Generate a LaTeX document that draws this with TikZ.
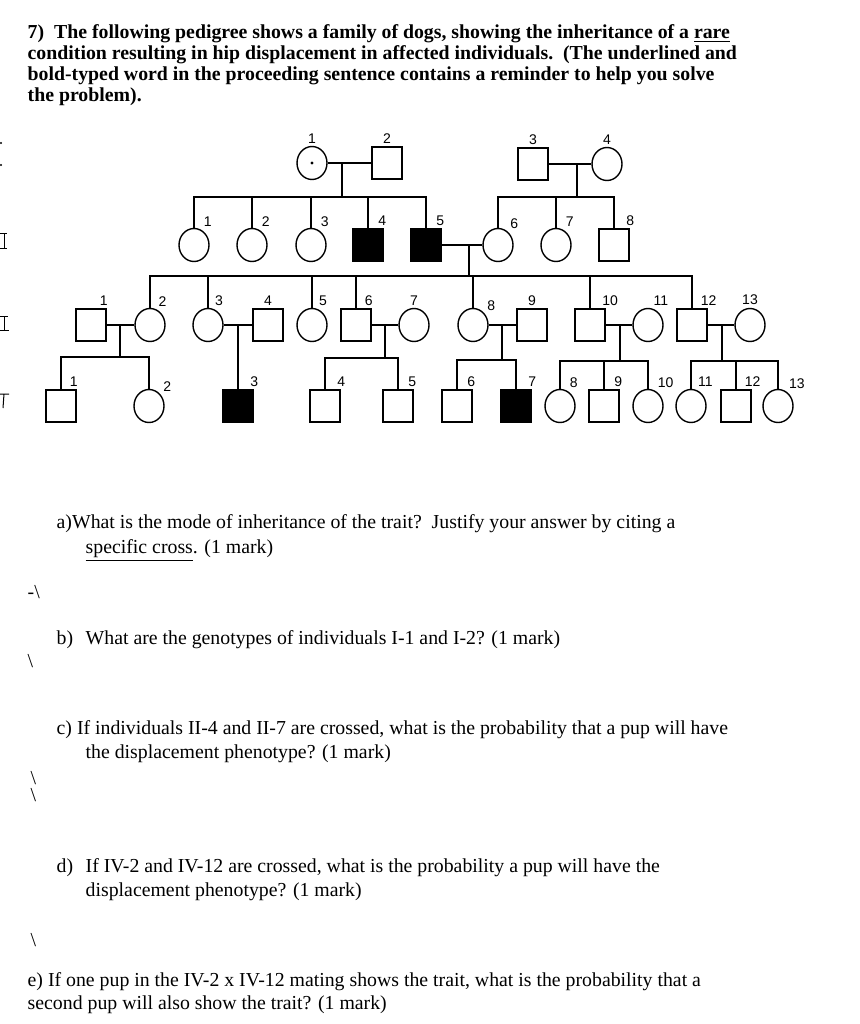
\documentclass[tikz,border=0pt]{standalone}
\usepackage{fontspec}
\setmainfont{Liberation Serif}
\newfontfamily\handfont{Liberation Sans}
\usetikzlibrary{shapes.geometric}

\begin{document}
\begin{tikzpicture}[x=0.5pt,y=-0.5pt,line width=0.7pt,
  male/.style={draw,rectangle,minimum width=15pt,minimum height=16pt,inner sep=0pt},
  female/.style={draw,ellipse,minimum width=15pt,minimum height=16.5pt,inner sep=0pt},
  aff/.style={fill=black},
  num/.style={font=\handfont\fontsize{7}{7}\selectfont,inner sep=1pt},
  txt/.style={anchor=base west,inner sep=0pt,font=\fontsize{9.9}{11}\selectfont},
  hd/.style={anchor=base west,inner sep=0pt,font=\bfseries\fontsize{9.9}{11}\selectfont},
  tick/.style={line width=0.5pt}]
\fill[white] (0,0) rectangle (860,1024);
\useasboundingbox (0,0) rectangle (860,1024);

\node[hd] (h1) at (27,38) {7)\hspace{5pt}The following pedigree shows a family of dogs, showing the inheritance of a \underline{rare}};
\node[hd] (h2) at (27,59) {condition resulting in hip displacement in affected individuals.\ \ (The underlined and};
\node[hd] (h3) at (27,80) {bold-typed word in the proceeding sentence contains a reminder to help you solve};
\node[hd] (h4) at (27,101) {the problem).};

\draw[tick] (0,233)--(7,233) (4,233)--(4,248) (0,248)--(7,248);
\draw[tick] (0,316)--(8,316) (4,316)--(4,330) (0,330)--(9,330);
\draw[tick] (0,394)--(9,394) (4,394)--(3,408);
\fill (1,143) circle (1.2) (1,165) circle (1.2);

\node[female,label={[num]above:1}] (I1) at (312,163) {};
\fill (I1.center) circle (1.6);
\node[male,label={[num]above:2}] (I2) at (387,163) {};
\node[male,label={[num]above:3}] (I3) at (533,164) {};
\node[female,label={[num]above:4}] (I4) at (607,164) {};
\draw (I1) -- (I2);
\draw (I3) -- (I4);
\coordinate (m1) at (342,163);
\coordinate (s1) at (342,197);
\coordinate (m2) at (577,164);
\coordinate (s2) at (577,197);
\draw (m1) -- (s1);
\draw (m2) -- (s2);

\node[female,label={[num]65:1}] (II1) at (194,245) {};
\node[female,label={[num]65:2}] (II2) at (252,245) {};
\node[female,label={[num]65:3}] (II3) at (311,245) {};
\node[male,aff,label={[num]65:4}] (II4) at (368,245) {};
\node[male,aff,label={[num]65:5}] (II5) at (426,245) {};
\node[female,label={[num]55:6}] (II6) at (498,245) {};
\node[female,label={[num]65:7}] (II7) at (556,245) {};
\node[male,label={[num]60:8}] (II8) at (614,245) {};
\foreach \c in {II1,II2,II3,II4,II5} \draw (\c.north) |- (s1);
\foreach \c in {II6,II7,II8} \draw (\c.north) |- (s2);
\draw (II5) -- (II6);
\coordinate (m3) at (469,245);
\coordinate (s3) at (469,276);
\draw (m3) -- (s3);

\node[male,label={[num]70:1}] (III1) at (91,325) {};
\node[female,label={[num]70:2}] (III2) at (150,325) {};
\node[female,label={[num]75:3}] (III3) at (208,325) {};
\node[male,label={[num]above:4}] (III4) at (268,325) {};
\node[female,label={[num]75:5}] (III5) at (312,325) {};
\node[male,label={[num]70:6}] (III6) at (356,325) {};
\node[female,label={[num]above:7}] (III7) at (414,325) {};
\node[female,label={[num]45:8}] (III8) at (473,325) {};
\node[male,label={[num]above:9}] (III9) at (532,325) {};
\node[male,label={[num]60:10}] (III10) at (590,325) {};
\node[female,label={[num]80:11}] (III11) at (648,325) {};
\node[male,label={[num]70:12}] (III12) at (692,325) {};
\node[female,label={[num]above:13}] (III13) at (750,325) {};
\foreach \c in {III2,III3,III5,III6,III8,III10,III12} \draw (\c.north) |- (s3);
\draw (III1) -- (III2);
\draw (III3) -- (III4);
\draw (III6) -- (III7);
\draw (III8) -- (III9);
\draw (III10) -- (III11);
\draw (III12) -- (III13);
\coordinate (m4) at (120,325);
\coordinate (s4) at (120,357);
\coordinate (m5) at (238,325);
\coordinate (m6) at (385,325);
\coordinate (s6) at (385,358);
\coordinate (m7) at (502,325);
\coordinate (s7) at (502,360);
\coordinate (m8) at (620,325);
\coordinate (s8) at (620,361);
\coordinate (m9) at (722,325);
\coordinate (s9) at (722,361);
\draw (m4) -- (s4);
\draw (m6) -- (s6);
\draw (m7) -- (s7);
\draw (m8) -- (s8);
\draw (m9) -- (s9);

\node[male,label={[num]70:1}] (IV1) at (61,406) {};
\node[female,label={[num]45:2}] (IV2) at (149,406) {};
\node[male,aff,label={[num]60:3}] (IV3) at (238,406) {};
\node[male,label={[num]60:4}] (IV4) at (325,406) {};
\node[male,label={[num]65:5}] (IV5) at (398,406) {};
\node[male,label={[num]65:6}] (IV6) at (457,406) {};
\node[male,aff,label={[num]60:7}] (IV7) at (516,406) {};
\node[female,label={[num]65:8}] (IV8) at (560,406) {};
\node[male,label={[num]65:9}] (IV9) at (604,406) {};
\node[female,label={[num]65:10}] (IV10) at (648,406) {};
\node[female,label={[num]75:11}] (IV11) at (691,406) {};
\node[male,label={[num]70:12}] (IV12) at (736,406) {};
\node[female,label={[num]60:13}] (IV13) at (778,406) {};
\foreach \c in {IV1,IV2} \draw (\c.north) |- (s4);
\draw (m5) -- (IV3);
\foreach \c in {IV4,IV5} \draw (\c.north) |- (s6);
\foreach \c in {IV6,IV7} \draw (\c.north) |- (s7);
\foreach \c in {IV8,IV9,IV10} \draw (\c.north) |- (s8);
\foreach \c in {IV11,IV12,IV13} \draw (\c.north) |- (s9);

\node[txt] (qa1) at (56,528) {a)What is the mode of inheritance of the trait?\ \ Justify your answer by citing a};
\node[txt] (qa2) at (85,553) {\underline{specific cross}. (1 mark)};
\node[txt] (qb) at (56,644) {\makebox[14.5pt][l]{b)}What are the genotypes of individuals I-1 and I-2? (1 mark)};
\node[txt] (qc1) at (56,734) {c) If individuals II-4 and II-7 are crossed, what is the probability that a pup will have};
\node[txt] (qc2) at (85,758) {the displacement phenotype? (1 mark)};
\node[txt] (qd1) at (56,872) {\makebox[14.5pt][l]{d)}If IV-2 and IV-12 are crossed, what is the probability a pup will have the};
\node[txt] (qd2) at (85,896) {displacement phenotype? (1 mark)};
\node[txt] (qe1) at (27,986) {e) If one pup in the IV-2 x IV-12 mating shows the trait, what is the probability that a};
\node[txt] (qe2) at (27,1009) {second pup will also show the trait? (1 mark)};

\node[txt] (t1) at (27,598) {-\textbackslash};
\node[txt] (t2) at (27,667) {\textbackslash};
\node[txt] (t3) at (30,784) {\textbackslash};
\node[txt] (t4) at (30,801) {\textbackslash};
\node[txt] (t5) at (30,946) {\textbackslash};
\end{tikzpicture}
\end{document}
